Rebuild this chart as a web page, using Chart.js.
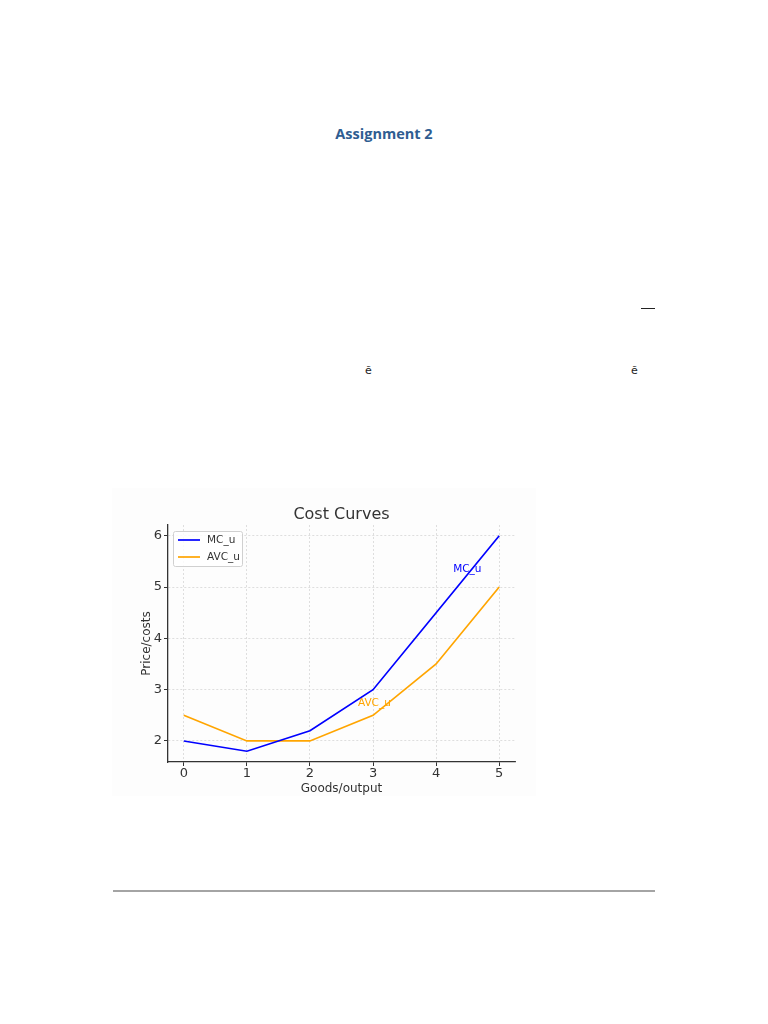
<!DOCTYPE html>
<html>
<head>
<meta charset="utf-8">
<script src="https://cdn.jsdelivr.net/npm/chart.js@4/dist/chart.umd.min.js"></script>
<style>
  html, body { margin: 0; padding: 0; background: #fff; }
  body { width: 768px; height: 1024px; position: relative; overflow: hidden; font-family: "DejaVu Sans", sans-serif; }
  .heading { position: absolute; top: 124px; left: 0; width: 768px; text-align: center;
    font-family: "Open Sans", sans-serif; font-weight: 700; font-size: 14.5px; color: #2f5d91; }
  .stray { position: absolute; font-family: "DejaVu Sans", sans-serif; font-size: 11px; color: #222; }
  .dash { position: absolute; left: 641px; top: 308px; width: 14px; height: 1px; background: #222; }
  .chart-box { position: absolute; left: 112px; top: 488px; width: 424px; height: 308px; background: #fdfdfd; }
  .rule { position: absolute; left: 113px; top: 890px; width: 542px; height: 2px; background: #a4a4a4; }
</style>
</head>
<body>
<div class="heading">Assignment 2</div>
<div class="dash"></div>
<div class="stray" style="left:365px; top:364px;">ẽ</div>
<div class="stray" style="left:631px; top:364px;">ẽ</div>
<div class="chart-box"><canvas id="costChart" width="424" height="308"></canvas></div>
<div class="rule"></div>

<script>
const outputLevels = [0, 1, 2, 3, 4, 5];
const mcValues = [2, 1.8, 2.2, 3, 4.5, 6];
const avcValues = [2.5, 2, 2, 2.5, 3.5, 5];
const xTicks = [0, 1, 2, 3, 4, 5];
const yTicks = [2, 3, 4, 5, 6];
const seriesNames = ['MC_u', 'AVC_u'];
const seriesColors = ['#0000ff', '#ffa500'];
// text labels placed on the plot, in data units
const noteText = ['MC_u', 'AVC_u'];
const noteX = [4.27, 2.76];
const noteY = [5.29, 2.68];

const axisColor = '#333333';
const gridColor = '#d6d6d6';

function toPoints(values) {
  return outputLevels.map((x, i) => ({ x: x, y: values[i] }));
}

const overlay = {
  id: 'overlay',
  afterDraw(chart) {
    const ctx = chart.ctx;
    const area = chart.chartArea;
    const xs = chart.scales.x, ys = chart.scales.y;
    ctx.save();
    // title centred over the plot
    ctx.fillStyle = '#333';
    ctx.font = '16px "DejaVu Sans"';
    ctx.textAlign = 'center';
    ctx.textBaseline = 'alphabetic';
    ctx.fillText('Cost Curves', (area.left + area.right) / 2, area.top - 6);

    // annotations
    ctx.font = '10.5px "DejaVu Sans"';
    ctx.textAlign = 'left';
    noteText.forEach((t, i) => {
      ctx.fillStyle = seriesColors[i];
      ctx.fillText(t, xs.getPixelForValue(noteX[i]), ys.getPixelForValue(noteY[i]));
    });

    // legend, upper left
    const lx = area.left + 5, ly = area.top + 6;
    ctx.fillStyle = 'rgba(255,255,255,0.85)';
    ctx.strokeStyle = '#d0d0d0';
    ctx.lineWidth = 1;
    ctx.beginPath();
    ctx.roundRect(lx + 0.5, ly + 0.5, 69, 35, 2);
    ctx.fill();
    ctx.stroke();
    chart.data.datasets.forEach((ds, i) => {
      const yy = ly + 9 + i * 17;
      ctx.strokeStyle = ds.borderColor;
      ctx.lineWidth = 1.7;
      ctx.beginPath();
      ctx.moveTo(lx + 5, yy);
      ctx.lineTo(lx + 27, yy);
      ctx.stroke();
      ctx.fillStyle = '#333';
      ctx.font = '10.5px "DejaVu Sans"';
      ctx.textBaseline = 'middle';
      ctx.fillText(ds.label, lx + 34, yy);
    });
    ctx.restore();
  }
};

new Chart(document.getElementById('costChart'), {
  type: 'line',
  data: {
    datasets: [
      { label: seriesNames[0], data: toPoints(mcValues), borderColor: seriesColors[0], borderWidth: 1.7, pointRadius: 0, tension: 0, fill: false },
      { label: seriesNames[1], data: toPoints(avcValues), borderColor: seriesColors[1], borderWidth: 1.7, pointRadius: 0, tension: 0, fill: false }
    ]
  },
  options: {
    responsive: false,
    animation: false,
    layout: { padding: { left: 28, top: 37, right: 21, bottom: 0 } },
    plugins: {
      legend: { display: false },
      tooltip: { enabled: false },
      title: { display: false }
    },
    scales: {
      x: {
        type: 'linear',
        min: -0.25,
        max: 5.25,
        afterBuildTicks: s => { s.ticks = xTicks.map(v => ({ value: v })); },
        afterFit: s => { s.height = 34; },
        ticks: { color: axisColor, font: { family: 'DejaVu Sans', size: 13 }, padding: 0, maxRotation: 0 },
        grid: { color: gridColor, lineWidth: 0.8, tickLength: 4, tickColor: axisColor, tickWidth: 1 },
        border: { color: axisColor, width: 1.3, dash: [2, 2] },
        title: { display: true, text: 'Goods/output', color: axisColor, font: { family: 'DejaVu Sans', size: 12 }, padding: 0 }
      },
      y: {
        type: 'linear',
        min: 1.59,
        max: 6.21,
        afterBuildTicks: s => { s.ticks = yTicks.map(v => ({ value: v })); },
        afterFit: s => { s.width = 28; },
        ticks: { color: axisColor, font: { family: 'DejaVu Sans', size: 13 }, padding: 2 },
        grid: { color: gridColor, lineWidth: 0.8, tickLength: 4, tickColor: axisColor, tickWidth: 1 },
        border: { color: axisColor, width: 1.3, dash: [2, 2] },
        title: { display: true, text: 'Price/costs', color: axisColor, font: { family: 'DejaVu Sans', size: 12 }, padding: 0 }
      }
    }
  },
  plugins: [overlay]
});
</script>
</body>
</html>
